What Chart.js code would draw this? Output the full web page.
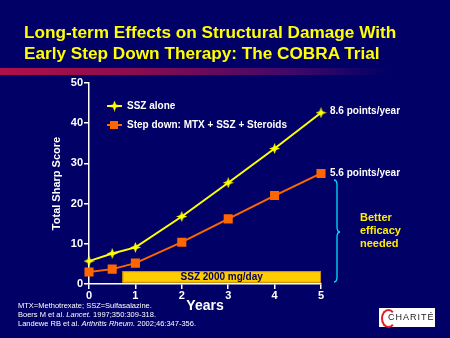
<!DOCTYPE html>
<html>
<head>
<meta charset="utf-8">
<script src="https://cdn.jsdelivr.net/npm/chart.js@4/dist/chart.umd.min.js"></script>
<style>
  html, body { margin: 0; padding: 0; background: #000066; }
  #wrap { position: relative; width: 450px; height: 338px; overflow: hidden; background: #000066; font-family: "Liberation Sans", Arial, sans-serif; }
  #title { position: absolute; left: 24px; top: 22px; color: #ffff00; font-weight: bold; font-size: 17.2px; line-height: 21px; white-space: nowrap; }
  #stripe { position: absolute; left: 0; top: 68px; width: 390px; height: 7px;
            background: linear-gradient(to right, #b0104a 0%, #8a0c50 35%, #40086a 75%, #000066 100%); }
  #notes { position: absolute; left: 18px; top: 301px; color: #fff; font-size: 7.5px; line-height: 9px; white-space: nowrap; }
  #logo { position: absolute; left: 379px; top: 308px; width: 56px; height: 19px; background: #fff;
          font-size: 9px; letter-spacing: 1px; color: #222; line-height: 19px; }
  #logo span { position: absolute; left: 9px; top: 0; }
  #logo i { position: absolute; left: 2px; top: 1px; width: 11px; height: 15px; border: 2px solid #e02020; border-right-color: transparent; border-radius: 50%; }
  canvas { position: absolute; left: 0; top: 0; }
</style>
</head>
<body>
<div id="wrap">
  <canvas id="cobraChart" width="450" height="338"></canvas>
  <div id="stripe"></div>
  <div id="title">Long-term Effects on Structural Damage With<br>Early Step Down Therapy: The COBRA Trial</div>
  <div id="notes">MTX=Methotrexate; SSZ=Sulfasalazine.<br>Boers M et al. <i>Lancet.</i> 1997;350:309-318.<br>Landewe RB et al. <i>Arthritis Rheum.</i> 2002;46:347-356.</div>
  <div id="logo"><i></i><span>CHARITÉ</span></div>
</div>
<script>
// данные
const years      = [0, 0.5, 1, 2, 3, 4, 5];
const sszAlone   = [5.7, 7.6, 9.1, 16.8, 25.2, 33.7, 42.6];
const stepDown   = [3.0, 3.7, 5.2, 10.4, 16.2, 22.0, 27.5];
const seriesNames = ["SSZ alone", "Step down: MTX + SSZ + Steroids"];
const rateLabels  = ["8.6 points/year", "5.6 points/year"];
const sszBarRange = [0.72, 5];      // годы
const sszBarY     = [0.3, 3.2];     // баллы
const sszBarLabel = "SSZ 2000 mg/day";
const yTicks = [0, 10, 20, 30, 40, 50];
const xTicks = [0, 1, 2, 3, 4, 5];

const YELLOW = "#ffff00";
const ORANGE = "#ff6600";

// маркер-звёздочка
function starPoint(color) {
    const c = document.createElement("canvas");
    c.width = 11; c.height = 11;
    const g = c.getContext("2d");
    g.fillStyle = color;
    g.beginPath();
    g.moveTo(5.5, 0); g.lineTo(7, 4); g.lineTo(11, 5.5); g.lineTo(7, 7);
    g.lineTo(5.5, 11); g.lineTo(4, 7); g.lineTo(0, 5.5); g.lineTo(4, 4);
    g.closePath(); g.fill();
    return c;
}
const star = starPoint(YELLOW);

const extras = {
    id: "extras",
    beforeDatasetsDraw(chart) {
        const { ctx, scales: { x, y } } = chart;
        // полоса SSZ
        const x0 = x.getPixelForValue(sszBarRange[0]), x1 = x.getPixelForValue(sszBarRange[1]);
        const y0 = y.getPixelForValue(sszBarY[1]), y1 = y.getPixelForValue(sszBarY[0]);
        ctx.save();
        ctx.fillStyle = "#ffcc00";
        ctx.fillRect(x0, y0, x1 - x0, y1 - y0);
        ctx.strokeStyle = "#c89000";
        ctx.lineWidth = 1;
        ctx.strokeRect(x0 + 0.5, y0 + 0.5, x1 - x0 - 1, y1 - y0 - 1);
        ctx.fillStyle = "#000066";
        ctx.font = "bold 10px 'Liberation Sans', Arial";
        ctx.textAlign = "center";
        ctx.textBaseline = "middle";
        ctx.fillText(sszBarLabel, (x0 + x1) / 2, (y0 + y1) / 2 + 0.5);
        ctx.restore();
    },
    afterDraw(chart) {
        const { ctx, scales: { x, y } } = chart;
        ctx.save();
        ctx.font = "bold 10px 'Liberation Sans', Arial";
        ctx.textBaseline = "middle";

        // легенда
        const legend = [[YELLOW, "star"], [ORANGE, "rect"]];
        legend.forEach(([col, kind], i) => {
            const ly = 106 + i * 19;
            ctx.strokeStyle = col; ctx.lineWidth = 2;
            ctx.beginPath(); ctx.moveTo(107, ly); ctx.lineTo(122, ly); ctx.stroke();
            if (kind === "star") ctx.drawImage(star, 109, ly - 5.5);
            else { ctx.fillStyle = col; ctx.fillRect(110, ly - 4, 8, 8); }
            ctx.fillStyle = "#fff";
            ctx.fillText(seriesNames[i], 127, ly + 0.5);
        });

        // подписи скорости
        const xr = x.getPixelForValue(5) + 9;
        ctx.fillStyle = "#fff";
        ctx.fillText(rateLabels[0], xr, y.getPixelForValue(sszAlone[6]) - 1);
        ctx.fillText(rateLabels[1], xr, y.getPixelForValue(stepDown[6]));

        // фигурная скобка
        const bx = 337, top = 180, bot = 282, mid = 232;
        ctx.strokeStyle = "#00e0ff"; ctx.lineWidth = 1.3;
        ctx.beginPath();
        ctx.moveTo(334, top);
        ctx.quadraticCurveTo(bx, top, bx, top + 5);
        ctx.lineTo(bx, mid - 5);
        ctx.quadraticCurveTo(bx, mid, bx + 3, mid);
        ctx.quadraticCurveTo(bx, mid, bx, mid + 5);
        ctx.lineTo(bx, bot - 5);
        ctx.quadraticCurveTo(bx, bot, 334, bot);
        ctx.stroke();

        ctx.fillStyle = "#ffee00";
        ctx.font = "bold 11px 'Liberation Sans', Arial";
        ["Better", "efficacy", "needed"].forEach((t, i) => ctx.fillText(t, 360, 218 + i * 13));

        // подписи осей
        ctx.fillStyle = "#fff";
        ctx.font = "bold 14px 'Liberation Sans', Arial";
        ctx.textAlign = "center";
        ctx.fillText("Years", (x.left + x.right) / 2, 306);
        ctx.translate(57, (y.top + y.bottom) / 2);
        ctx.rotate(-Math.PI / 2);
        ctx.font = "bold 11px 'Liberation Sans', Arial";
        ctx.fillText("Total Sharp Score", 0, 0);
        ctx.restore();
    }
};

new Chart(document.getElementById("cobraChart"), {
    type: "line",
    data: {
        datasets: [
            { label: seriesNames[0], data: years.map((v, i) => ({ x: v, y: sszAlone[i] })),
              borderColor: YELLOW, backgroundColor: YELLOW, borderWidth: 2, pointStyle: star, tension: 0, clip: false },
            { label: seriesNames[1], data: years.map((v, i) => ({ x: v, y: stepDown[i] })),
              borderColor: ORANGE, backgroundColor: ORANGE, borderWidth: 2, pointStyle: "rect", pointRadius: 5, tension: 0, clip: false }
        ]
    },
    options: {
        responsive: false,
        animation: false,
        layout: { padding: { left: 0, top: 83, right: 129, bottom: 0 } },
        plugins: { legend: { display: false }, tooltip: { enabled: false } },
        scales: {
            x: {
                type: "linear", min: 0, max: 5,
                afterFit: s => { s.height = 54; },
                afterBuildTicks: s => { s.ticks = xTicks.map(v => ({ value: v })); },
                border: { color: "#fff", width: 1.5 },
                grid: { drawOnChartArea: false, color: "#fff", tickLength: 5, lineWidth: 1.5 },
                ticks: { color: "#fff", font: { family: "'Liberation Sans', Arial", weight: "bold", size: 11 }, padding: 0 }
            },
            y: {
                min: 0, max: 50,
                afterFit: s => { s.width = 89; },
                afterBuildTicks: s => { s.ticks = yTicks.map(v => ({ value: v })); },
                border: { color: "#fff", width: 1.5 },
                grid: { drawOnChartArea: false, color: "#fff", tickLength: 5, lineWidth: 1.5 },
                ticks: { color: "#fff", font: { family: "'Liberation Sans', Arial", weight: "bold", size: 11 }, padding: 1 }
            }
        }
    },
    plugins: [extras]
});
</script>
</body>
</html>
